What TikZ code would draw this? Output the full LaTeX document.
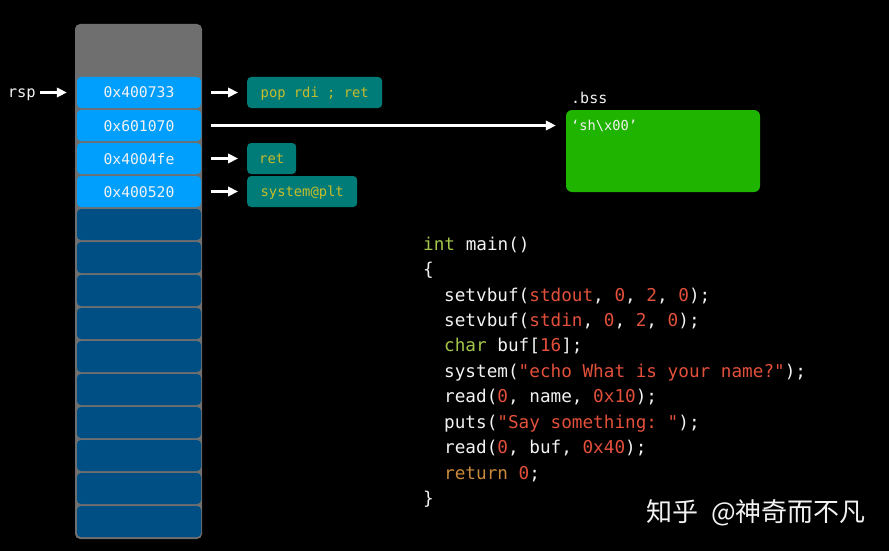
\documentclass[tikz,border=0pt]{standalone}
\usepackage{fontspec}
\usetikzlibrary{arrows.meta}
\setmonofont{DejaVu Sans Mono}
\newfontfamily\cjkwm{Noto Sans CJK SC}
\definecolor{stackgray}{HTML}{6F6F6F}
\definecolor{slotbright}{HTML}{009FFD}
\definecolor{slotdark}{HTML}{004F84}
\definecolor{tealbox}{HTML}{007C78}
\definecolor{tealtext}{HTML}{C6BC2C}
\definecolor{greenbox}{HTML}{1EB400}
\definecolor{codewhite}{HTML}{F2F2F2}
\definecolor{kwgreen}{HTML}{A4C64A}
\definecolor{litred}{HTML}{E2503C}
\definecolor{retorange}{HTML}{C98A3C}
\newcommand{\kw}[1]{\textcolor{kwgreen}{#1}}
\newcommand{\lit}[1]{\textcolor{litred}{#1}}
\newcommand{\ret}[1]{\textcolor{retorange}{#1}}
\tikzset{
  slotbase/.style={rounded corners=4pt, inner sep=0pt, minimum width=124pt, minimum height=31pt,
    text height=11pt, text depth=0pt},
  slotlit/.style={slotbase, fill=slotbright, text=codewhite, font=\ttfamily\fontsize{14.7}{16}\selectfont},
  slotdim/.style={slotbase, fill=slotdark},
  tealnode/.style={anchor=west, rounded corners=4pt, fill=tealbox, text=tealtext, inner sep=0pt,
    minimum height=31pt, text height=10.5pt, text depth=0pt, align=center,
    font=\ttfamily\fontsize{13.8}{16}\selectfont},
  plain/.style={text=codewhite, inner sep=0pt, font=\ttfamily\fontsize{15}{17}\selectfont},
  codeline/.style={anchor=base west, inner sep=0pt, text=codewhite, font=\ttfamily\fontsize{17.68}{20}\selectfont},
  pointer/.style={draw=white, line width=2.2pt, -{Triangle[length=10pt,width=9.5pt]}},
}
\begin{document}
\begin{tikzpicture}[x=1pt,y=-1pt]
\useasboundingbox (0,0) rectangle (889,551);
\fill[black] (0,0) rectangle (889,551);
\fill[stackgray, rounded corners=5pt] (75,24) rectangle (202,539);
\node[slotlit] (s1) at (139,92.5) {0x400733};
\node[slotlit] (s2) at (139,125.5) {0x601070};
\node[slotlit] (s3) at (139,158.5) {0x4004fe};
\node[slotlit] (s4) at (139,191.5) {0x400520};
\foreach \k in {5,...,14}
  \node[slotdim] (s\k) at (139,92.5+33*\k-33) {};
\node[plain, anchor=east, text height=10.5pt, text depth=0pt, font=\ttfamily\fontsize{15.5}{17}\selectfont] (rsp) at (36,92.5) {rsp};
\node[tealnode, minimum width=135pt] (popret) at (247,92.5) {pop rdi ; ret};
\node[tealnode, minimum width=49pt] (retbox) at (247,158.5) {ret};
\node[tealnode, minimum width=110pt] (sysplt) at (247,191.5) {system@plt};
\node[rounded corners=6pt, fill=greenbox, minimum width=194pt, minimum height=82pt, inner sep=0pt] (bss) at (663,151) {};
\node[plain, anchor=base west] (bsslabel) at (571,103) {.bss};
\node[anchor=base west, inner sep=0pt, text=codewhite, font=\ttfamily\fontsize{13.7}{16}\selectfont] (shval) at (571,130) {‘sh\textbackslash x00’};
\draw[pointer, shorten <=4pt, shorten >=10pt] (rsp.east) -- (s1.west);
\draw[pointer, shorten <=10pt, shorten >=9pt] (s1.east) -- (popret.west);
\draw[pointer, shorten <=10pt, shorten >=10pt] (s2.east) -- (s2.east -| bss.west);
\draw[pointer, shorten <=10pt, shorten >=9pt] (s3.east) -- (retbox.west);
\draw[pointer, shorten <=10pt, shorten >=9pt] (s4.east) -- (sysplt.west);
\node[codeline] (c1) at (423,250) {\kw{int} main()};
\node[codeline] (c2) at (423,275.4) {\{};
\node[codeline] (c3) at (444,301) {setvbuf(\lit{stdout}, \lit{0}, \lit{2}, \lit{0});};
\node[codeline] (c4) at (444,326.3) {setvbuf(\lit{stdin}, \lit{0}, \lit{2}, \lit{0});};
\node[codeline] (c5) at (444,351.7) {\kw{char} buf[\lit{16}];};
\node[codeline] (c6) at (444,377) {system(\lit{"echo What is your name?"});};
\node[codeline] (c7) at (444,402.6) {read(\lit{0}, name, \lit{0x10});};
\node[codeline] (c8) at (444,428) {puts(\lit{"Say something: "});};
\node[codeline] (c9) at (444,453.5) {read(\lit{0}, buf, \lit{0x40});};
\node[codeline] (c10) at (444,479) {\ret{return} \lit{0};};
\node[codeline] (c11) at (423,504) {\}};
\node[anchor=base west, inner sep=0pt, text=codewhite, font=\cjkwm\fontsize{26}{30}\selectfont] (wm) at (646,521.5) {知乎\hspace{7pt} @神奇而不凡};
\end{tikzpicture}
\end{document}
